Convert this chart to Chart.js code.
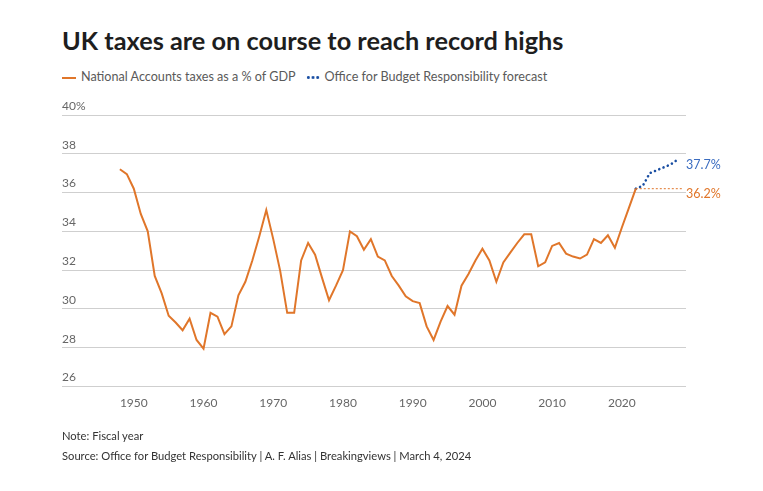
<!DOCTYPE html>
<html>
<head>
<meta charset="utf-8">
<script src="https://cdn.jsdelivr.net/npm/chart.js@4.4.1/dist/chart.umd.min.js"></script>
<style>
  html, body { margin: 0; padding: 0; background: #fff; }
  body { width: 763px; height: 491px; position: relative; overflow: hidden; font-family: Lato, "Open Sans", sans-serif; }
  #chart { position: absolute; left: 0; top: 0; }
  .title { position: absolute; left: 62px; top: 25px; font-size: 25.3px; font-weight: bold; color: #1e1e1e; white-space: nowrap; }
  .legend { position: absolute; left: 62px; top: 69px; font-size: 12.6px; color: #5a5a5a; white-space: nowrap; }
  .legend span.key { display: inline-block; vertical-align: middle; margin-right: 5px; }
  .legend .orange { width: 14px; height: 2px; background: #e0762a; }
  .legend .dots { width: 14px; height: 3px; background-image: radial-gradient(circle, #1a4fa3 1.3px, transparent 1.5px); background-size: 4.7px 3px; margin-left: 10px; }
  .foot { position: absolute; left: 62px; font-size: 11.2px; color: #333; white-space: nowrap; }
</style>
</head>
<body>
<div class="title">UK taxes are on course to reach record highs</div>
<div class="legend"><span class="key orange"></span>National Accounts taxes as a % of GDP<span class="key dots"></span>Office for Budget Responsibility forecast</div>
<canvas id="chart" width="763" height="491"></canvas>
<div class="foot" style="top:429px">Note: Fiscal year</div>
<div class="foot" style="top:449px">Source: Office for Budget Responsibility | A. F. Alias | Breakingviews | March 4, 2024</div>
<script>
// National Accounts taxes as % of GDP, fiscal years 1948-2022
const actualYears = [];
for (let y = 1948; y <= 2022; y++) actualYears.push(y);
const actualValues = [
  37.2, 36.95, 36.2, 34.9, 34.0, 31.7, 30.8, 29.65, 29.3, 28.9,
  29.5, 28.4, 27.95, 29.8, 29.6, 28.7, 29.1, 30.7, 31.4, 32.5,
  33.75, 35.1, 33.6, 31.95, 29.8, 29.8, 32.5, 33.4, 32.8, 31.6,
  30.45, 31.2, 32.0, 34.0, 33.75, 33.05, 33.6, 32.7, 32.5, 31.7,
  31.2, 30.65, 30.4, 30.3, 29.1, 28.4, 29.35, 30.15, 29.7, 31.2,
  31.8, 32.5, 33.1, 32.5, 31.4, 32.4, 32.9, 33.4, 33.85, 33.85,
  32.2, 32.4, 33.25, 33.4, 32.85, 32.7, 32.6, 32.8, 33.6, 33.4,
  33.8, 33.15, 34.2, 35.2, 36.2
];

// OBR forecast
const forecastYears = [2022, 2023, 2024, 2025, 2026, 2027, 2028];
const forecastValues = [36.2, 36.35, 37.0, 37.15, 37.3, 37.45, 37.7];

const yTicks = [26, 28, 30, 32, 34, 36, 38, 40];
const xTicks = [1950, 1960, 1970, 1980, 1990, 2000, 2010, 2020];

const ORANGE = '#e0762a';
const BLUE = '#1a4fa3';

const pairs = (xs, ys) => xs.map((x, i) => ({ x: x, y: ys[i] }));

// end labels + the dotted reference line at the last actual value
const endLabels = {
  id: 'endLabels',
  afterDatasetsDraw(chart) {
    const { ctx, chartArea, scales } = chart;
    const lastX = actualYears[actualYears.length - 1];
    const lastY = actualValues[actualValues.length - 1];
    const fy = forecastValues[forecastValues.length - 1];
    const y1 = scales.y.getPixelForValue(lastY);
    ctx.save();
    ctx.strokeStyle = ORANGE;
    ctx.lineWidth = 1;
    ctx.setLineDash([2, 2]);
    ctx.beginPath();
    ctx.moveTo(scales.x.getPixelForValue(lastX), y1);
    ctx.lineTo(chartArea.right - 3, y1);
    ctx.stroke();
    ctx.setLineDash([]);
    ctx.font = '12.5px Lato, sans-serif';
    ctx.textBaseline = 'middle';
    ctx.fillStyle = ORANGE;
    ctx.fillText(lastY.toFixed(1) + '%', chartArea.right, y1 + 5);
    ctx.fillStyle = '#3a6cc0';
    ctx.fillText(fy.toFixed(1) + '%', chartArea.right, scales.y.getPixelForValue(fy) + 5);
    ctx.restore();
  }
};

new Chart(document.getElementById('chart'), {
  type: 'line',
  data: {
    datasets: [{
      label: 'National Accounts taxes as a % of GDP',
      data: pairs(actualYears, actualValues),
      borderColor: ORANGE,
      borderWidth: 2,
      pointRadius: 0,
      tension: 0
    }, {
      label: 'Office for Budget Responsibility forecast',
      data: pairs(forecastYears, forecastValues),
      borderColor: BLUE,
      borderWidth: 2.6,
      borderDash: [0.01, 4.6],
      borderCapStyle: 'round',
      pointRadius: 0,
      tension: 0
    }]
  },
  options: {
    responsive: false,
    animation: false,
    devicePixelRatio: 1,
    layout: { padding: { left: 62, right: 77, top: 115, bottom: 74.5 } },
    plugins: { legend: { display: false }, tooltip: { enabled: false } },
    scales: {
      x: {
        type: 'linear',
        min: 1939.7,
        max: 2029.2,
        grid: { display: false },
        border: { display: false },
        afterBuildTicks: s => { s.ticks = xTicks.map(v => ({ value: v })); },
        afterFit: s => { s.height = 30; },
        ticks: {
          padding: 1,
          color: '#666',
          font: { family: 'Lato', size: 12 },
          callback: v => String(v)
        }
      },
      y: {
        min: 26,
        max: 40,
        grid: { color: '#cfcfcf', lineWidth: 1, drawTicks: false },
        border: { display: false },
        afterBuildTicks: s => { s.ticks = yTicks.map(v => ({ value: v })); },
        afterFit: s => { s.width = 0; },
        ticks: {
          mirror: true,
          padding: 0,
          labelOffset: -9,
          color: '#666',
          font: { family: 'Lato', size: 12 },
          callback: v => v === 40 ? v + '%' : String(v)
        }
      }
    }
  },
  plugins: [endLabels]
});
</script>
</body>
</html>
